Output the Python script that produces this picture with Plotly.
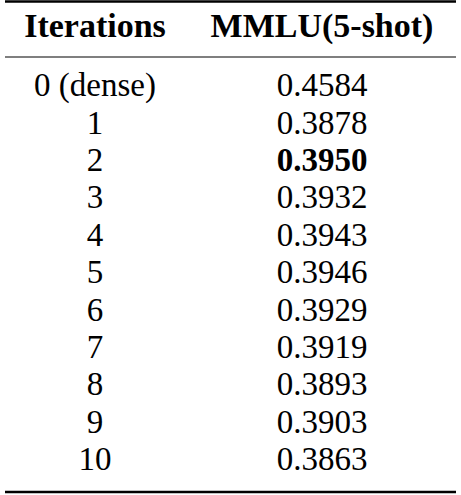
import plotly.graph_objects as go

headers = ["Iterations", "MMLU(5-shot)"]
iterations = ["0 (dense)", "1", "2", "3", "4", "5", "6", "7", "8", "9", "10"]
mmlu = ["0.4584", "0.3878", "0.3950", "0.3932", "0.3943", "0.3946", "0.3929", "0.3919", "0.3893", "0.3903", "0.3863"]
bold_row = 2

rows = list(range(len(iterations)))
col_x = [95, 322]
fam = "Liberation Serif, Times New Roman, serif"
font = dict(family=fam, size=33, color="black")
hfont = dict(family=fam, size=34, color="black")

mmlu_text = [f"<b>{v}</b>" if i == bold_row else v for i, v in enumerate(mmlu)]

fig = go.Figure()
fig.add_trace(go.Scatter(x=[col_x[0]] * len(rows), y=rows, text=iterations, mode="text",
                         textfont=font, textposition="middle center", hoverinfo="skip"))
fig.add_trace(go.Scatter(x=[col_x[1]] * len(rows), y=rows, text=mmlu_text, mode="text",
                         textfont=font, textposition="middle center", hoverinfo="skip"))
fig.add_trace(go.Scatter(x=col_x, y=[-1.6, -1.6], text=[f"<b>{h}</b>" for h in headers], mode="text",
                         textfont=hfont, textposition="middle center", hoverinfo="skip"))

def py(p):
    return (p - 88) / 37.4

fig.add_shape(type="line", x0=5, x1=456, y0=py(1.5), y1=py(1.5), line=dict(color="black", width=2.5))
fig.add_shape(type="line", x0=5, x1=456, y0=py(57), y1=py(57), line=dict(color="black", width=1.2))
fig.add_shape(type="line", x0=5, x1=456, y0=py(492), y1=py(492), line=dict(color="black", width=2.5))

fig.update_layout(width=461, height=495, margin=dict(l=0, r=0, t=0, b=0),
                  plot_bgcolor="white", paper_bgcolor="white", showlegend=False,
                  xaxis=dict(range=[0, 461], visible=False, fixedrange=True),
                  yaxis=dict(range=[py(495), py(0)], visible=False, fixedrange=True))
fig.write_html("out.html", config={"displayModeBar": False},
               post_script="document.body.style.margin='0';document.body.style.overflow='hidden';")
